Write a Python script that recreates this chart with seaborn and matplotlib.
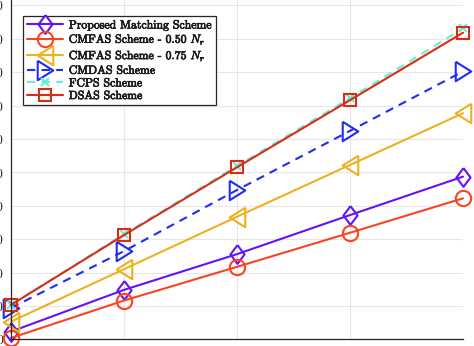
import numpy as np
import pandas as pd
import seaborn as sns
import matplotlib
matplotlib.use("Agg")
import matplotlib.pyplot as plt
import matplotlib.patheffects as pe

# Data
x_vals = [10, 20, 30, 40, 50]
proposed = [2.3, 14.8, 25.5, 37.2, 48.7]
cmfas_050 = [0.4, 11.6, 21.7, 31.9, 42.2]
cmfas_075 = [5.3, 21.0, 36.7, 52.2, 67.7]
cmdas = [9.4, 26.4, 44.7, 62.4, 80.2]
fcps = [10.3, 31.5, 51.9, 72.2, 93.1]
dsas = [10.3, 31.2, 51.5, 71.6, 91.8]
y_ticks = list(range(0, 101, 10))

labels = [
    "Proposed Matching Scheme",
    "CMFAS Scheme - 0.50 $N_r$",
    "CMFAS Scheme - 0.75 $N_r$",
    "CMDAS Scheme",
    "FCPS Scheme",
    "DSAS Scheme",
]
series = [proposed, cmfas_050, cmfas_075, cmdas, fcps, dsas]

sns.set_style("white")
plt.rcParams["font.family"] = ["cmr10", "DejaVu Serif"]
plt.rcParams["mathtext.fontset"] = "cm"
plt.rcParams["axes.formatter.use_mathtext"] = True

diamond = [(0, 1), (0.75, 0), (0, -1), (-0.75, 0), (0, 1)]
tri_right = [(-0.8, 1), (0.8, 0), (-0.8, -1), (-0.8, 1)]
tri_left = [(0.8, 1), (-0.8, 0), (0.8, -1), (0.8, 1)]

styles = [
    dict(color="#6412f8", marker=diamond, ms=13.5, ls="-"),
    dict(color="#fb4320", marker="o", ms=11, ls="-"),
    dict(color="#edb120", marker=tri_left, ms=14, ls="-"),
    dict(color="#1f2df0", marker=tri_right, ms=14, ls=(0, (4, 3))),
    dict(color="#6cecd6", marker="x", ms=6, ls=(0, (4, 3))),
    dict(color="#d62d16", marker="s", ms=8.5, ls="-"),
]

fig = plt.figure(figsize=(4.74, 3.46), dpi=100)
ax = fig.add_axes([11 / 474, 6.7 / 346, 452 / 474, 367.4 / 346])

for lab, vals, st in zip(labels, series, styles):
    df = pd.DataFrame({"x": x_vals, "y": vals})
    sns.lineplot(data=df, x="x", y="y", ax=ax, color=st["color"],
                 marker=st["marker"], markersize=st["ms"], linestyle=st["ls"],
                 linewidth=1.5, markerfacecolor="none",
                 markeredgecolor=st["color"], markeredgewidth=1.5,
                 label=lab, clip_on=False)

ax.set_xlim(x_vals[0], x_vals[-1])
ax.set_ylim(0, 110)
ax.set_xticks(x_vals)
ax.set_yticks(y_ticks + [110])
ax.set_xlabel("")
ax.set_ylabel("")
ax.grid(True, color="#e6e6e6", linewidth=0.8)
ax.set_axisbelow(True)
for side in ["top", "right"]:
    ax.spines[side].set_visible(False)
for side in ["left", "bottom"]:
    ax.spines[side].set_color("#262626")
    ax.spines[side].set_linewidth(0.9)
ax.tick_params(direction="in", length=4, width=0.9, color="#262626",
               labelsize=10, labelcolor="#262626", pad=5)

leg = ax.legend(loc="upper left", bbox_to_anchor=(22.7 / 474, 1 - 16 / 346),
                bbox_transform=fig.transFigure, borderaxespad=0,
                fontsize=8.5, handlelength=3.1, handletextpad=0.45,
                labelspacing=0.2, borderpad=0.35, fancybox=False,
                framealpha=1)
leg.get_frame().set_edgecolor("#262626")
leg.get_frame().set_linewidth(0.9)
for t in leg.get_texts():
    t.set_color("#1a1a1a")
    t.set_path_effects([pe.withStroke(linewidth=0.5, foreground="#1a1a1a")])

fig.savefig("out.png", dpi=100)
